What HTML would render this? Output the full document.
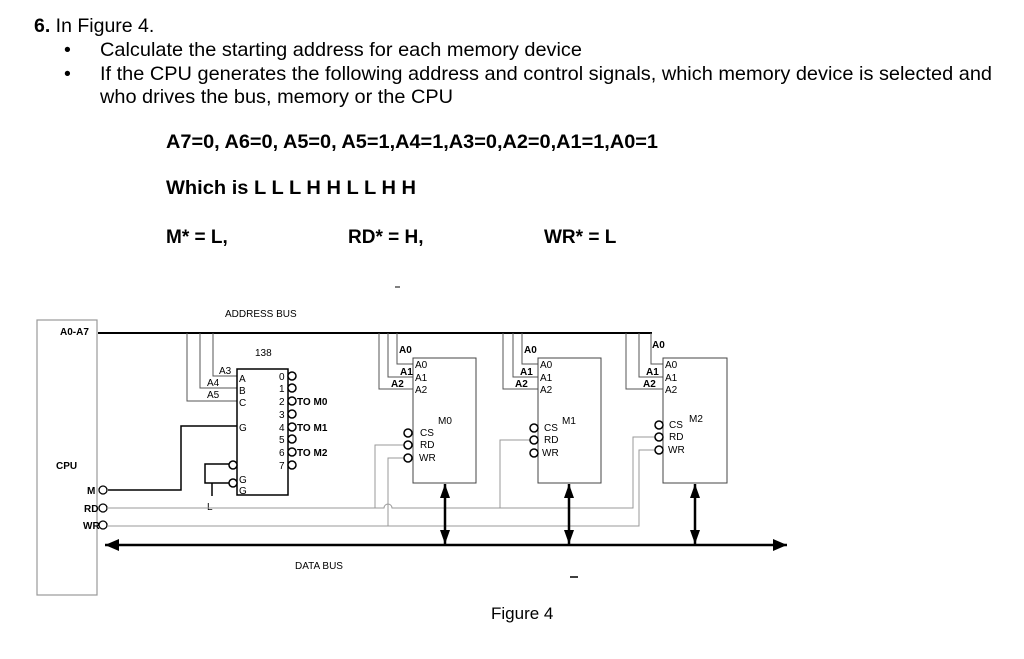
<!DOCTYPE html>
<html><head><meta charset="utf-8"><style>
html,body{margin:0;padding:0;background:#fff;width:1024px;height:659px;overflow:hidden}
svg{display:block}
.t{font-family:"Liberation Sans",Arial,sans-serif;fill:#000}
.c{font-family:"Liberation Sans",Arial,sans-serif;fill:#000;font-size:10px}
</style></head><body>
<svg width="1024" height="659" viewBox="0 0 1024 659" xmlns="http://www.w3.org/2000/svg">
<defs>
<marker id="ah" viewBox="0 0 14 12" refX="14" refY="6" markerWidth="14" markerHeight="12" orient="auto-start-reverse" markerUnits="userSpaceOnUse"><path d="M0,0 L14,6 L0,12z" fill="#000"/></marker>
<marker id="av" viewBox="0 0 14 10" refX="14" refY="5" markerWidth="14" markerHeight="10" orient="auto-start-reverse" markerUnits="userSpaceOnUse"><path d="M0,0 L14,5 L0,10z" fill="#000"/></marker>
</defs>
<!-- header text -->
<text class="t" x="34" y="32" font-size="19.5"><tspan font-weight="bold">6.</tspan>  In Figure 4.</text>
<text class="t" x="64" y="56" font-size="19.5">•</text>
<text class="t" x="100" y="56" font-size="19.5" textLength="482" lengthAdjust="spacingAndGlyphs">Calculate the starting address for each memory device</text>
<text class="t" x="64" y="80" font-size="19.5">•</text>
<text class="t" x="100" y="80" font-size="19.5" textLength="892" lengthAdjust="spacingAndGlyphs">If the CPU generates the following address and control signals, which memory device is selected and</text>
<text class="t" x="100" y="103" font-size="19.5" textLength="353" lengthAdjust="spacingAndGlyphs">who drives the bus, memory or the CPU</text>
<g font-weight="bold">
<text class="t" x="166" y="148" font-size="19" textLength="492" lengthAdjust="spacingAndGlyphs">A7=0, A6=0, A5=0, A5=1,A4=1,A3=0,A2=0,A1=1,A0=1</text>
<text class="t" x="166" y="194" font-size="19" textLength="250" lengthAdjust="spacingAndGlyphs">Which is L L L H H L L H H</text>
<text class="t" x="166" y="243" font-size="19">M* = L,</text>
<text class="t" x="348" y="243" font-size="19">RD* = H,</text>
<text class="t" x="544" y="243" font-size="19">WR* = L</text>
</g>
<line x1="395" y1="287" x2="400" y2="287" stroke="#000"/>

<!-- CPU -->
<rect x="37" y="320" width="60" height="275" fill="none" stroke="#999" stroke-width="1.2"/>
<text class="c" x="60" y="335" font-weight="bold" font-size="11">A0-A7</text>
<text class="c" x="56" y="469" font-weight="bold" font-size="11">CPU</text>
<text class="c" x="225" y="317" font-size="11">ADDRESS BUS</text>
<line x1="98" y1="333" x2="652" y2="333" stroke="#000" stroke-width="2"/>

<!-- decoder -->
<g stroke="#555" fill="none" stroke-width="1">
<polyline points="213,333 213,376 237,376"/>
<polyline points="200,333 200,388 237,388"/>
<polyline points="187,333 187,401 237,401"/>
</g>
<text class="c" x="219" y="374">A3</text>
<text class="c" x="207" y="386">A4</text>
<text class="c" x="207" y="398">A5</text>
<text class="c" x="255" y="356">138</text>
<rect x="237" y="369" width="51" height="126" fill="none" stroke="#000" stroke-width="1.5"/>
<text class="c" x="239" y="382">A</text><text class="c" x="239" y="394">B</text><text class="c" x="239" y="406">C</text>
<text class="c" x="239" y="431">G</text><text class="c" x="239" y="483">G</text><text class="c" x="239" y="494">G</text>
<g fill="#fff" stroke="#000" stroke-width="1.5">
<circle cx="292" cy="376" r="4"/><circle cx="292" cy="388" r="4"/><circle cx="292" cy="401" r="4"/><circle cx="292" cy="414" r="4"/><circle cx="292" cy="427" r="4"/><circle cx="292" cy="439" r="4"/><circle cx="292" cy="452" r="4"/><circle cx="292" cy="465" r="4"/>
<circle cx="233" cy="465" r="4"/><circle cx="233" cy="483" r="4"/>
</g>
<text class="c" x="279" y="380">0</text><text class="c" x="279" y="392">1</text><text class="c" x="279" y="405">2</text><text class="c" x="279" y="418">3</text><text class="c" x="279" y="431">4</text><text class="c" x="279" y="443">5</text><text class="c" x="279" y="456">6</text><text class="c" x="279" y="469">7</text>
<text class="c" x="297" y="405" font-weight="bold">TO M0</text>
<text class="c" x="297" y="431" font-weight="bold">TO M1</text>
<text class="c" x="297" y="456" font-weight="bold">TO M2</text>
<g stroke="#000" fill="none" stroke-width="1.5">
<polyline points="237,426 181,426 181,490 108,490"/>
<polyline points="229,464 205,464 205,483 229,483"/>
<line x1="212" y1="483" x2="212" y2="496"/>
</g>
<text class="c" x="207" y="510">L</text>

<!-- CPU control pins -->
<g fill="#fff" stroke="#000" stroke-width="1.3">
<circle cx="103" cy="490" r="4"/><circle cx="103" cy="508" r="4"/><circle cx="103" cy="525" r="4"/>
</g>
<text class="c" x="87" y="494" font-weight="bold" font-size="9">M</text>
<text class="c" x="84" y="512" font-weight="bold" font-size="9">RD</text>
<text class="c" x="83" y="529" font-weight="bold" font-size="9">WR</text>
<g stroke="#999" fill="none" stroke-width="1">
<polyline points="107,508 375,508 375,445 404,445"/>
<path d="M375,508 L384,508 A4,4 0 0 1 392,508 L500,508 L500,440 L530,440"/>
<polyline points="500,508 633,508 633,437 655,437"/>
<polyline points="107,526 388,526 388,458 404,458"/>
<polyline points="388,526 639,526 639,450 655,450"/>
</g>

<!-- memories -->
<g stroke="#555" fill="none" stroke-width="1">
<polyline points="379,333 379,389 413,389"/><polyline points="388,333 388,377 413,377"/><polyline points="397,333 397,364 413,364"/>
<polyline points="503,333 503,389 538,389"/><polyline points="513,333 513,377 538,377"/><polyline points="522,333 522,364 538,364"/>
<polyline points="626,333 626,389 663,389"/><polyline points="639,333 639,377 663,377"/><polyline points="651,333 651,364 663,364"/>
</g>
<g fill="none" stroke="#444" stroke-width="1">
<rect x="413" y="358" width="63" height="125"/>
<rect x="538" y="358" width="63" height="125"/>
<rect x="663" y="358" width="64" height="125"/>
</g>
<g font-weight="bold">
<text class="c" x="399" y="353" font-size="9">A0</text><text class="c" x="400" y="375" font-size="9">A1</text><text class="c" x="391" y="387" font-size="9">A2</text>
<text class="c" x="524" y="353" font-size="9">A0</text><text class="c" x="520" y="375" font-size="9">A1</text><text class="c" x="515" y="387" font-size="9">A2</text>
<text class="c" x="652" y="348" font-size="9">A0</text><text class="c" x="646" y="375" font-size="9">A1</text><text class="c" x="643" y="387" font-size="9">A2</text>
</g>
<text class="c" x="415" y="368" font-size="9">A0</text><text class="c" x="415" y="381" font-size="9">A1</text><text class="c" x="415" y="393" font-size="9">A2</text>
<text class="c" x="540" y="368" font-size="9">A0</text><text class="c" x="540" y="381" font-size="9">A1</text><text class="c" x="540" y="393" font-size="9">A2</text>
<text class="c" x="665" y="368" font-size="9">A0</text><text class="c" x="665" y="381" font-size="9">A1</text><text class="c" x="665" y="393" font-size="9">A2</text>
<text class="c" x="438" y="424" font-size="14">M0</text>
<text class="c" x="562" y="424" font-size="14">M1</text>
<text class="c" x="689" y="422" font-size="14">M2</text>
<g fill="#fff" stroke="#000" stroke-width="1.5">
<circle cx="408" cy="433" r="4"/><circle cx="408" cy="445" r="4"/><circle cx="408" cy="458" r="4"/>
<circle cx="534" cy="428" r="4"/><circle cx="534" cy="440" r="4"/><circle cx="534" cy="453" r="4"/>
<circle cx="659" cy="425" r="4"/><circle cx="659" cy="437" r="4"/><circle cx="659" cy="450" r="4"/>
</g>
<text class="c" x="420" y="436" font-size="9">CS</text><text class="c" x="420" y="448" font-size="9">RD</text><text class="c" x="419" y="461" font-size="9">WR</text>
<text class="c" x="544" y="431" font-size="9">CS</text><text class="c" x="544" y="443" font-size="9">RD</text><text class="c" x="542" y="456" font-size="9">WR</text>
<text class="c" x="669" y="428" font-size="9">CS</text><text class="c" x="669" y="440" font-size="9">RD</text><text class="c" x="668" y="453" font-size="9">WR</text>

<!-- data bus -->
<line x1="105" y1="545" x2="787" y2="545" stroke="#000" stroke-width="2.5" marker-start="url(#ah)" marker-end="url(#ah)"/>
<g stroke="#000" stroke-width="2.5">
<line x1="445" y1="484" x2="445" y2="544" marker-start="url(#av)" marker-end="url(#av)"/>
<line x1="569" y1="484" x2="569" y2="544" marker-start="url(#av)" marker-end="url(#av)"/>
<line x1="695" y1="484" x2="695" y2="544" marker-start="url(#av)" marker-end="url(#av)"/>
</g>
<text class="c" x="295" y="569" font-size="11">DATA BUS</text>
<line x1="570" y1="577" x2="578" y2="577" stroke="#000" stroke-width="1.5"/>
<text class="t" x="491" y="619" font-size="17">Figure 4</text>
</svg>
</body></html>
